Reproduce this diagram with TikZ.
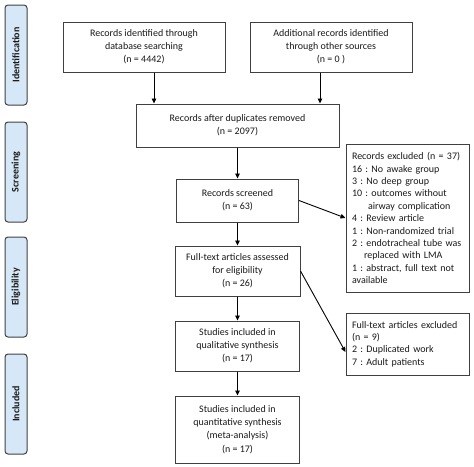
\documentclass[tikz,border=0pt]{standalone}
\usepackage{fontspec}
\setmainfont{Carlito}
\frenchspacing
\usetikzlibrary{arrows.meta}
\definecolor{sidefill}{HTML}{D6E8F8}
\definecolor{edge}{HTML}{404040}
\definecolor{ink}{HTML}{1A1A1A}
\begin{document}
\begin{tikzpicture}[x=1pt,y=-1pt,
 box/.style={draw=edge, line width=1pt, fill=white, align=center, inner sep=2pt, text=ink, font=\fontsize{10}{13.2}\selectfont},
 exbox/.style={box, align=left, text width=111pt, inner xsep=6pt, font=\fontsize{10}{12.4}\selectfont},
 side/.style={draw=edge, fill=sidefill, line width=1pt, rounded corners=3pt, rotate=90, minimum width=100pt, minimum height=22pt, inner sep=0pt, font=\fontsize{10}{11}\selectfont\bfseries, text=ink},
 arr/.style={-{Triangle[length=5pt,width=4.5pt]}, line width=0.9pt, draw=black}]
\useasboundingbox (0,0) rectangle (474,466);
\node[side] (s1) at (16,55) {Identification};
\node[side] (s2) at (16,172) {Screening};
\node[side] (s3) at (16,287) {Eligibility};
\node[side] (s4) at (16,404) {Included};

\node[box, minimum width=162pt, minimum height=50pt] (b1) at (144,47) {Records identified through\\database searching\\(n = 4442)};
\node[box, minimum width=162pt, minimum height=50pt] (b2) at (331,47) {Additional records identified\\through other sources\\(n = 0 )};
\node[box, minimum width=203pt, minimum height=43pt] (b3) at (237.5,125.5) {Records after duplicates removed\\(n = 2097)};
\node[box, minimum width=122pt, minimum height=43pt] (b4) at (237.5,200.5) {Records screened\\(n = 63)};
\node[box, minimum width=125pt, minimum height=50pt] (b5) at (237.5,271) {Full-text articles assessed\\for eligibility\\(n = 26)};
\node[box, minimum width=124pt, minimum height=50pt] (b6) at (237.5,346) {Studies included in\\qualitative synthesis\\(n = 17)};
\node[box, minimum width=124pt, minimum height=67pt] (b7) at (237.5,429.5) {Studies included in\\quantitative synthesis\\(meta-analysis)\\(n = 17)};

\node[exbox, minimum height=148pt] (e1) at (407.5,218) {Records excluded (n = 37)\\16 : No awake group\\3 : No deep group\\10 : outcomes without\\\hspace*{16pt}airway complication\\4 : Review article\\1 : Non-randomized trial\\2 : endotracheal tube was\\\hspace*{12pt}replaced with LMA\\1 : abstract, full text not\\available};
\node[exbox, minimum height=62pt] (e2) at (407.5,344) {Full-text articles excluded\\(n = 9)\\2 : Duplicated work\\7 : Adult patients};

\coordinate (k1) at (154,0);
\coordinate (k2) at (320,0);
\draw[arr] (b1.south -| k1) -- (b3.north -| k1);
\draw[arr] (b2.south -| k2) -- (b3.north -| k2);
\draw[arr] (b3.south) -- (b4.north);
\draw[arr] (b4.south) -- (b5.north);
\draw[arr] (b5.south) -- (b6.north);
\draw[arr] (b6.south) -- (b7.north);
\draw[arr] (b4.east) -- (e1.west);
\draw[arr] (b5.east) -- ([yshift=-8pt]e2.west);
\end{tikzpicture}
\end{document}
